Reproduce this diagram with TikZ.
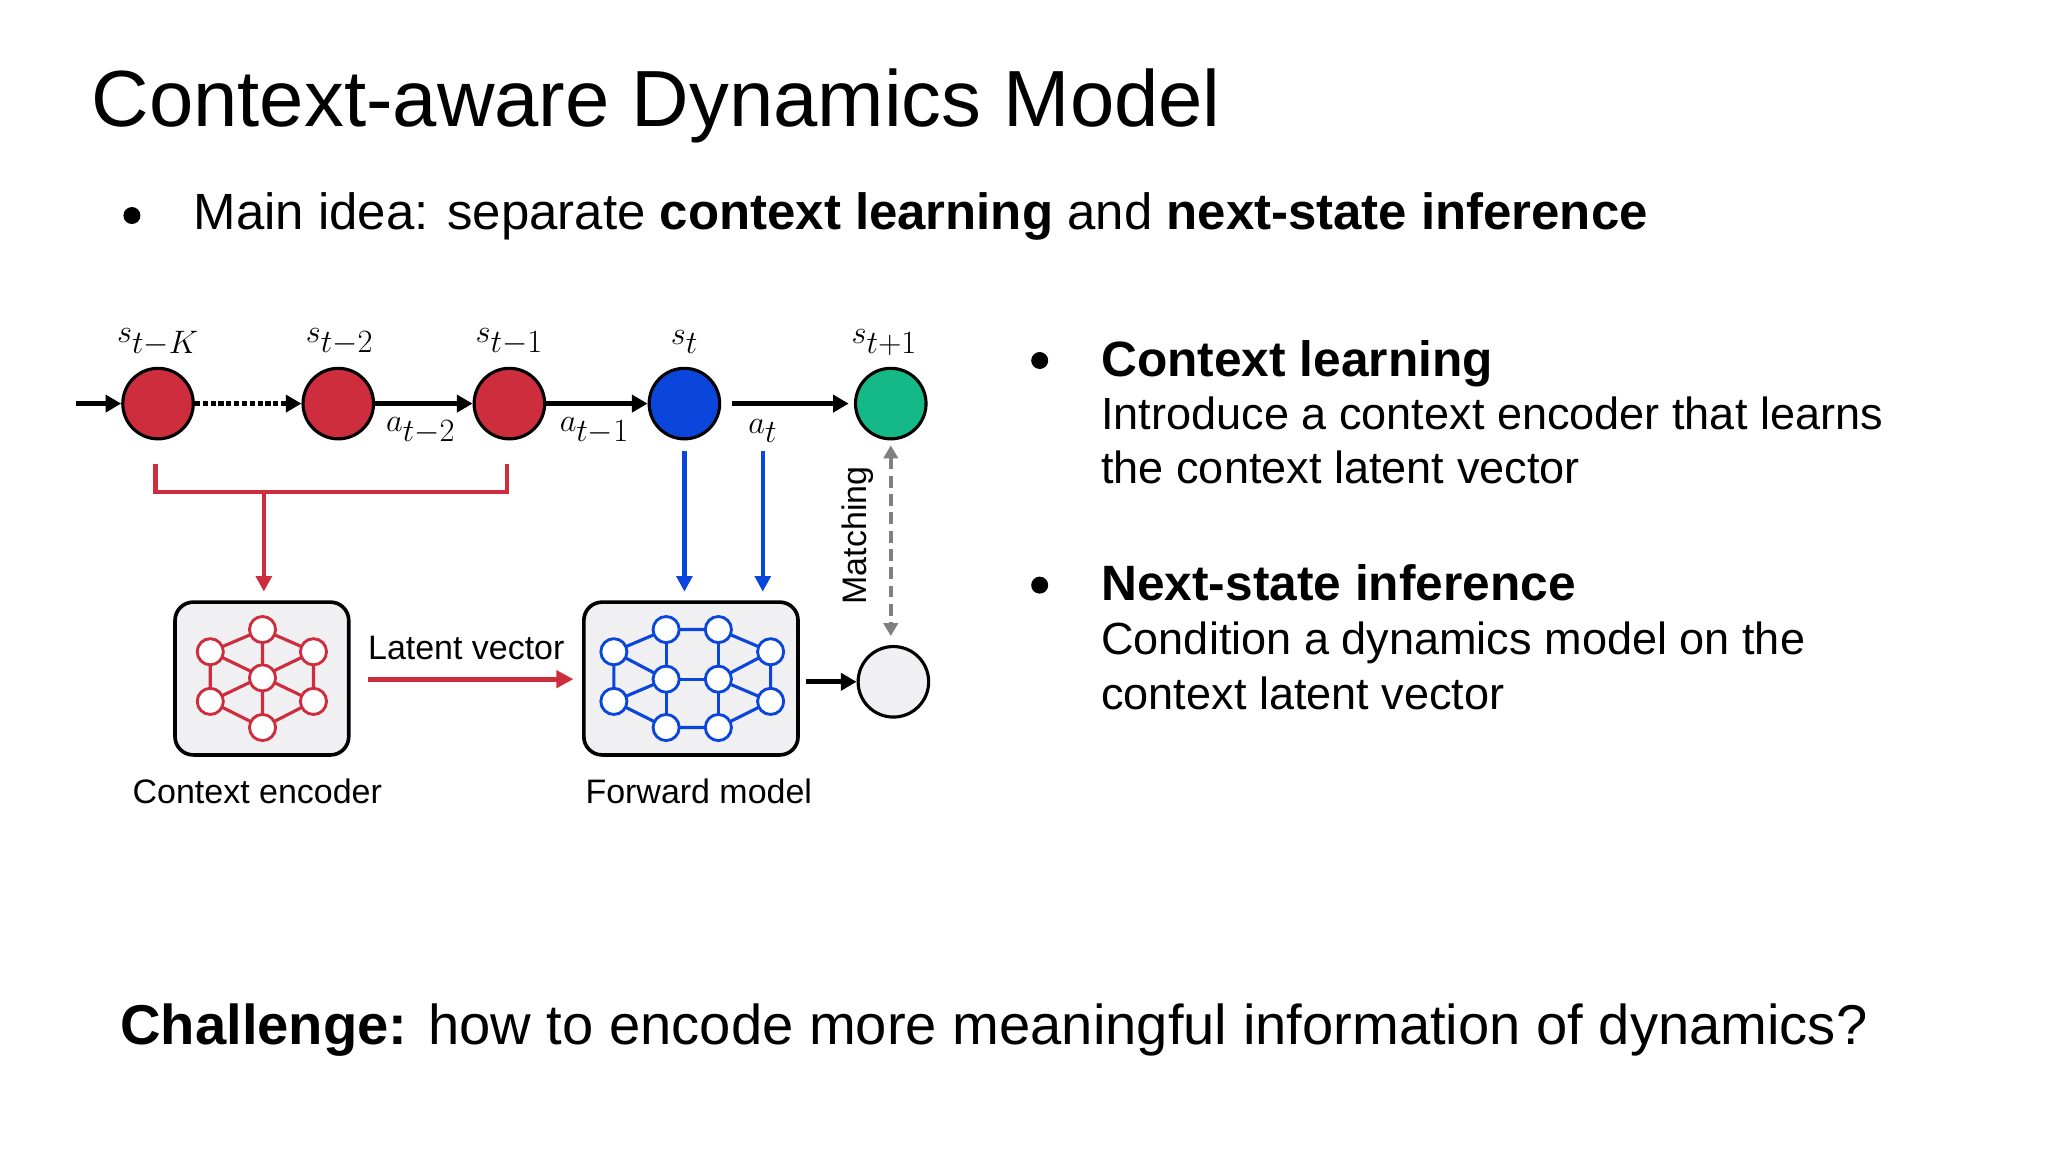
\documentclass[tikz,border=0pt]{standalone}
\usepackage{fontspec}
\setmainfont{Liberation Sans}
\usetikzlibrary{arrows.meta}
\definecolor{cred}{RGB}{205,45,60}
\definecolor{cblue}{RGB}{10,70,220}
\definecolor{cgreen}{RGB}{20,185,135}
\definecolor{boxg}{RGB}{240,240,242}
\tikzset{
 st/.style={circle,draw=black,line width=2.4pt,minimum size=54pt,inner sep=0},
 lab/.style={font=\fontsize{37}{37}\selectfont,inner sep=0},
 arr/.style={line width=4pt,-{Triangle[length=12pt,width=13pt]}},
 box/.style={draw=black,line width=2.8pt,rounded corners=14pt,fill=boxg},
 nn/.style={circle,draw=#1,fill=white,line width=2.2pt,minimum size=20pt,inner sep=0},
 capt/.style={font=\fontsize{26}{26}\selectfont,inner sep=0},
 dot/.style={circle,fill=black,minimum size=13pt,inner sep=0},
}
\begin{document}
\begin{tikzpicture}[x=1pt,y=-1pt]
\useasboundingbox[fill=white] (0,0) rectangle (1568,882);
\node[anchor=base west,inner sep=0,font=\fontsize{61}{61}\selectfont] (title) at (70,97) {Context-aware Dynamics Model};
\node[dot] (d0) at (101,165) {};
\node[anchor=base west,inner sep=0,font=\fontsize{39}{39}\selectfont] (b0) at (148,176) {Main idea: separate \textbf{context learning} and \textbf{next-state inference}};
% right bullets
\node[dot] (d1) at (796,276) {};
\node[anchor=base west,inner sep=0,font=\fontsize{38}{38}\selectfont\bfseries] (h1) at (843,288) {Context learning};
\node[anchor=base west,inner sep=0,font=\fontsize{34.5}{34.5}\selectfont] (l1) at (843,329) {Introduce a context encoder that learns};
\node[anchor=base west,inner sep=0,font=\fontsize{34.5}{34.5}\selectfont] (l2) at (843,370) {the context latent vector};
\node[dot] (d2) at (796,448) {};
\node[anchor=base west,inner sep=0,font=\fontsize{38}{38}\selectfont\bfseries] (h2) at (843,460) {Next-state inference};
\node[anchor=base west,inner sep=0,font=\fontsize{34.5}{34.5}\selectfont] (l3) at (843,501) {Condition a dynamics model on the};
\node[anchor=base west,inner sep=0,font=\fontsize{34.5}{34.5}\selectfont] (l4) at (843,543) {context latent vector};
\node[anchor=base west,inner sep=0,font=\fontsize{43}{43}\selectfont] (ch) at (92,800) {\textbf{Challenge:} how to encode more meaningful information of dynamics?};
% states
\node[st,fill=cred] (s1) at (121,309) {};
\node[st,fill=cred] (s2) at (259,309) {};
\node[st,fill=cred] (s3) at (390,309) {};
\node[st,fill=cblue] (s4) at (524,309) {};
\node[st,fill=cgreen] (s5) at (682,309) {};
\node[st,fill=boxg] (s6) at (684,522) {};
\node[lab] at (121,262) {$s_{t-K}$};
\node[lab] at (260,262) {$s_{t-2}$};
\node[lab] at (390,262) {$s_{t-1}$};
\node[lab] at (524,262) {$s_{t}$};
\node[lab] at (677,262) {$s_{t+1}$};
\node[lab] at (322,330) {$a_{t-2}$};
\node[lab] at (455,330) {$a_{t-1}$};
\node[lab] at (584,330) {$a_{t}$};
\coordinate (in) at (58,309);
\draw[arr] (in) -- (s1);
\draw[line width=4pt,dotted,-{Triangle[length=12pt,width=13pt]}] (s1) -- (s2);
\draw[arr] (s2) -- (s3);
\draw[arr] (s3) -- (s4);
\draw[arr,shorten <=8pt,shorten >=4pt] (s4) -- (s5);
% bracket
\coordinate (br1) at (119,355); \coordinate (br2) at (388,355);
\coordinate (bm) at (202,377); \coordinate (bt) at (202,453);
\draw[cred,line width=3.2pt] (br1) |- (br2 |- bm) -- (br2);
\draw[cred,line width=3.2pt,-{Triangle[length=12pt,width=12pt]}] (bm) -- (bt);
% boxes
\node[box,minimum width=133pt,minimum height=117pt] (enc) at (200.5,519.5) {};
\node[box,minimum width=164pt,minimum height=117pt] (fwd) at (529,519.5) {};
\node[capt] at (197,606) {Context encoder};
\node[capt] at (535,606) {Forward model};
% encoder net
\begin{scope}[cred,line width=2.4pt]
\draw (201,482)--(161,499)--(161,537)--(201,557)--(240,537)--(240,499)--cycle;
\draw (201,482)--(201,557) (161,499)--(240,537) (240,499)--(161,537);
\foreach \p in {(201,482),(161,499),(240,499),(201,519),(161,537),(240,537),(201,557)}
  \node[nn=cred] at \p {};
\end{scope}
% forward net
\begin{scope}[cblue,line width=2.4pt]
\draw (470,499)--(510,482)--(550,482)--(590,499)--(590,537)--(550,557)--(510,557)--(470,537)--cycle;
\draw (510,482)--(510,557) (550,482)--(550,557) (510,520)--(550,520);
\draw (470,499)--(510,520)--(470,537) (590,499)--(550,520)--(590,537);
\foreach \p in {(470,499),(510,482),(550,482),(590,499),(510,520),(550,520),(470,537),(510,557),(550,557),(590,537)}
  \node[nn=cblue] at \p {};
\end{scope}
% blue arrows
\coordinate (u1) at (524,345); \coordinate (d1) at (524,453);
\coordinate (u2) at (584,345); \coordinate (d2) at (584,453);
\draw[cblue,line width=3.5pt,-{Triangle[length=12pt,width=12pt]}] (u1) -- (d1);
\draw[cblue,line width=3.5pt,-{Triangle[length=12pt,width=12pt]}] (u2) -- (d2);
% latent
\coordinate (la) at (282,520); \coordinate (lb) at (439,520);
\draw[cred,line width=4pt,-{Triangle[length=13pt,width=13pt]}] (la) -- (lb);
\node[capt] at (357,496) {Latent vector};
\coordinate (fo) at (617,522);
\draw[arr] (fo) -- (s6);
% matching
\coordinate (m1) at (682,341); \coordinate (m2) at (682,487);
\draw[gray,line width=3.5pt,dash pattern=on 9pt off 5pt,{Triangle[length=10pt,width=11pt]}-{Triangle[length=10pt,width=11pt]}] (m1) -- (m2);
\node[capt,rotate=90] at (657,410) {Matching};
\end{tikzpicture}
\end{document}
